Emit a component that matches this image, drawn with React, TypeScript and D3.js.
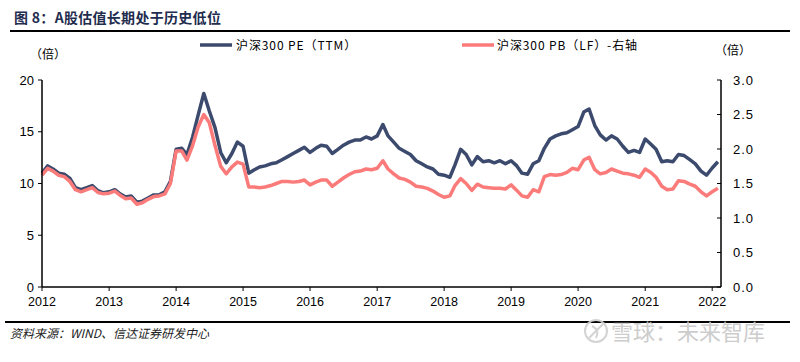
import * as d3 from 'd3';
import * as React from 'react';

// monthly readings, Jan 2012 .. Feb 2022
const peTTM: number[] = [
  11.0, 11.7, 11.4, 11.0, 10.9, 10.5, 9.6, 9.4, 9.6, 9.8, 9.3, 9.1,
  9.2, 9.4, 9.0, 8.7, 8.8, 8.2, 8.3, 8.6, 8.9, 8.9, 9.2, 10.2,
  13.3, 13.4, 12.8, 14.5, 16.6, 18.7, 17.0, 15.4, 13.0, 12.0, 12.9, 14.0,
  13.6, 11.0, 11.3, 11.6, 11.7, 11.9, 12.0, 12.3, 12.6, 12.9, 13.2, 13.5,
  13.0, 13.4, 13.7, 13.6, 12.9, 13.3, 13.7, 14.0, 14.2, 14.2, 14.5, 14.3,
  14.6, 15.7, 14.6, 14.0, 13.4, 13.1, 12.8, 12.2, 11.9, 11.6, 11.4, 10.9,
  10.8, 10.6, 11.8, 13.3, 12.8, 11.8, 12.6, 12.1, 12.2, 12.0, 12.2, 11.9,
  12.2, 11.7, 11.0, 10.9, 11.9, 12.2, 13.4, 14.3, 14.6, 14.8, 14.9, 15.2,
  15.5, 16.9, 17.2, 15.6, 14.7, 14.2, 14.6, 14.3, 13.6, 13.0, 13.2, 13.0,
  14.3, 13.8, 13.3, 12.1, 12.2, 12.1, 12.8, 12.7, 12.3, 11.9, 11.2, 10.8,
  11.5, 12.1,
];

const pbLF: number[] = [
  1.62, 1.72, 1.68, 1.62, 1.60, 1.53, 1.41, 1.38, 1.41, 1.44, 1.37, 1.35,
  1.36, 1.39, 1.33, 1.28, 1.29, 1.20, 1.22, 1.27, 1.31, 1.32, 1.35, 1.50,
  1.97, 1.97, 1.84, 2.05, 2.32, 2.50, 2.38, 2.05, 1.75, 1.64, 1.74, 1.81,
  1.78, 1.45, 1.45, 1.44, 1.45, 1.47, 1.50, 1.53, 1.53, 1.52, 1.53, 1.55,
  1.48, 1.52, 1.55, 1.55, 1.46, 1.52, 1.58, 1.63, 1.67, 1.68, 1.71, 1.70,
  1.72, 1.83, 1.71, 1.64, 1.58, 1.56, 1.52, 1.46, 1.45, 1.43, 1.39, 1.34,
  1.30, 1.32, 1.47, 1.57, 1.50, 1.40, 1.49, 1.45, 1.44, 1.43, 1.43, 1.42,
  1.48, 1.40, 1.32, 1.30, 1.41, 1.38, 1.60, 1.63, 1.62, 1.63, 1.66, 1.72,
  1.70, 1.84, 1.88, 1.70, 1.64, 1.66, 1.71, 1.68, 1.65, 1.64, 1.62, 1.59,
  1.71, 1.66, 1.59, 1.46, 1.41, 1.42, 1.54, 1.53, 1.49, 1.46, 1.38, 1.32,
  1.38, 1.43,
];

const months: Date[] = d3.timeMonths(new Date(2012, 0, 1), new Date(2022, 2, 1));
const yearTicks: number[] = [2012, 2013, 2014, 2015, 2016, 2017, 2018, 2019, 2020, 2021, 2022];
const leftTicks: number[] = [0, 5, 10, 15, 20];
const rightTicks: number[] = [0, 0.5, 1, 1.5, 2, 2.5, 3];

const PE_COLOR = '#3b4a6d';
const PB_COLOR = '#fb7b7b';
const NUM_FONT = '"Liberation Sans", Arial, sans-serif';
const CJK_FONT = '"Noto Sans CJK SC", sans-serif';

const App = () => {
  const left = 42;
  const right = 721;
  const top = 80;
  const bottom = 287;

  const x = d3.scaleTime()
    .domain([new Date(2012, 0, 1), new Date(2022, 1, 18)])
    .range([left, right]);
  const yL = d3.scaleLinear().domain([0, 20]).range([bottom, top]);
  const yR = d3.scaleLinear().domain([0, 3]).range([bottom, top]);

  const peLine = d3.line<number>()
    .x((d, i) => x(months[i]))
    .y((d) => yL(d));
  const pbLine = d3.line<number>()
    .x((d, i) => x(months[i]))
    .y((d) => yR(d));

  return (
    <svg width={800} height={362} style={{ position: 'absolute', left: 0, top: 0, display: 'block', background: '#fff' }}>
      {/* title */}
      <text x={14} y={23} fontFamily={CJK_FONT} fontWeight='bold' fontSize={14} letterSpacing={0.3} fill='#1f2d4f'>
        图 8：A股估值长期处于历史低位
      </text>
      <line x1={10} x2={790} y1={31} y2={31} stroke='#000' strokeWidth={2} />

      {/* legend */}
      <line x1={200} x2={232} y1={45} y2={45} stroke={PE_COLOR} strokeWidth={3.5} />
      <text x={236} y={49.5} fontFamily={CJK_FONT} fontSize={12} letterSpacing={0.9} fill='#000'>沪深300 PE（TTM）</text>
      <line x1={462} x2={494} y1={45} y2={45} stroke={PB_COLOR} strokeWidth={3.5} />
      <text x={497} y={49.5} fontFamily={CJK_FONT} fontSize={12} letterSpacing={0.9} fill='#000'>沪深300 PB（LF）-右轴</text>

      <text x={30} y={59} fontFamily={CJK_FONT} fontSize={12} fill='#000'>（倍）</text>
      <text x={715} y={55} fontFamily={CJK_FONT} fontSize={12} fill='#000'>（倍）</text>

      {/* series */}
      <path d={peLine(peTTM) || ''} fill='none' stroke={PE_COLOR} strokeWidth={3.5} strokeLinejoin='round' />
      <path d={pbLine(pbLF) || ''} fill='none' stroke={PB_COLOR} strokeWidth={3.5} strokeLinejoin='round' />

      {/* axes */}
      <line x1={left} x2={left} y1={top} y2={bottom} stroke='#000' strokeWidth={1.5} />
      <line x1={right} x2={right} y1={top} y2={bottom} stroke='#000' strokeWidth={1.5} />
      <line x1={left} x2={right} y1={bottom} y2={bottom} stroke='#000' strokeWidth={1.5} />

      {leftTicks.map((t) => (
        <g key={`l${t}`}>
          <line x1={left - 4} x2={left} y1={yL(t)} y2={yL(t)} stroke='#000' strokeWidth={1} />
          <text x={left - 8} y={yL(t) + 4.5} textAnchor='end' fontFamily={NUM_FONT} fontSize={13} fill='#000'>{t}</text>
        </g>
      ))}

      {rightTicks.map((t) => (
        <g key={`r${t}`}>
          <line x1={right - 4} x2={right} y1={yR(t)} y2={yR(t)} stroke='#000' strokeWidth={1} />
          <text x={733} y={yR(t) + 4.5} fontFamily={NUM_FONT} fontSize={13} letterSpacing={1} fill='#000'>{d3.format('.1f')(t)}</text>
        </g>
      ))}

      {yearTicks.map((yr) => {
        const px = x(new Date(yr, 0, 1));
        return (
          <g key={`x${yr}`}>
            <line x1={px} x2={px} y1={bottom} y2={bottom + 4} stroke='#000' strokeWidth={1} />
            <text x={px} y={306} textAnchor='middle' fontFamily={NUM_FONT} fontSize={12.5} fill='#000'>{yr}</text>
          </g>
        );
      })}

      {/* footer */}
      <line x1={5} x2={790} y1={322} y2={322} stroke='#000' strokeWidth={2} />
      <text x={10} y={338} fontFamily={CJK_FONT} fontStyle='italic' fontSize={12} fill='#222'>
        资料来源：WIND、信达证券研发中心
      </text>

      {/* watermark */}
      <g opacity={0.9}>
        <circle cx={596} cy={331} r={11} fill='none' stroke='#cfcfcf' strokeWidth={2} />
        <path d='M589,338 L603,324 M592,326 Q600,330 596,338' fill='none' stroke='#cfcfcf' strokeWidth={2} />
        <text x={611} y={340} fontFamily={CJK_FONT} fontSize={22} fill='#c8c8c8'>雪球：未来智库</text>
      </g>
    </svg>
  );
};

export default App;
